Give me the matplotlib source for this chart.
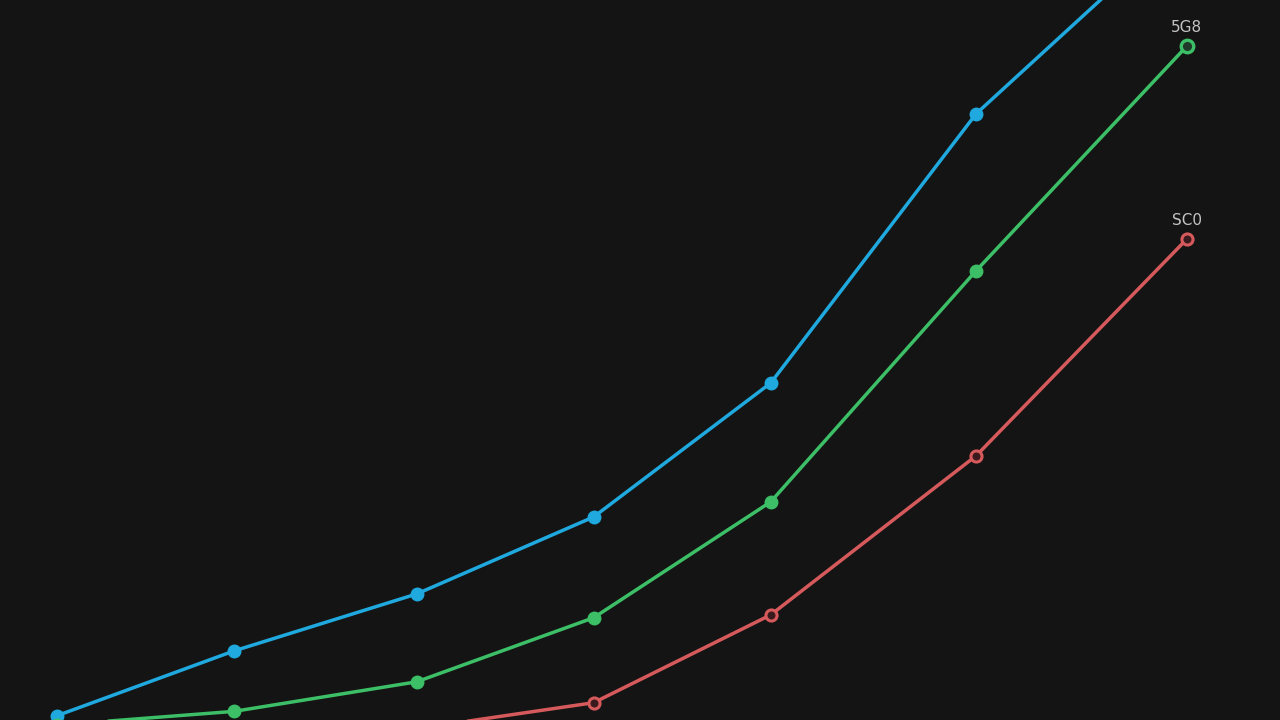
import matplotlib.pyplot as plt

steps = [0, 1.0, 2.03, 3.03, 4.03, 5.19, 6.38]
blue_vals = [6, 96, 175, 282, 468, 842, 1110]
green_vals = [-7, 12, 53, 142, 303, 624, 936]
red_vals = [-60, -35, -12, 24, 146, 367, 668]
end_labels = {'green': '5G8', 'red': 'SC0'}

BG = '#141414'
BLUE = '#1fa9de'
GREEN = '#3cbf66'
RED = '#d65a5c'


def plot_lines():
    fig = plt.figure(figsize=(12.8, 7.2), dpi=100, facecolor=BG)
    ax = fig.add_axes([0, 0, 1, 1])
    ax.set_facecolor(BG)

    ax.plot(steps, blue_vals, color=BLUE, lw=2.5, marker='o', ms=9,
            mfc=BLUE, mec=BLUE, zorder=3)
    ax.plot(steps[:-1], green_vals[:-1], color=GREEN, lw=2.5, marker='o',
            ms=9, mfc=GREEN, mec=GREEN, zorder=3)
    ax.plot(steps[-2:], green_vals[-2:], color=GREEN, lw=2.5, zorder=3)
    ax.plot(steps[-1], green_vals[-1], marker='o', ms=9, mfc='#1f3a28',
            mec=GREEN, mew=2.4, zorder=4)
    ax.plot(steps, red_vals, color=RED, lw=2.5, marker='o', ms=8,
            mfc='#3a1a1c', mec=RED, mew=2.2, zorder=3)

    ax.annotate(end_labels['green'], (steps[-1], green_vals[-1]),
                textcoords='offset points', xytext=(0, 10), ha='center',
                color='#c4c4c4', fontsize=11)
    ax.annotate(end_labels['red'], (steps[-1], red_vals[-1]),
                textcoords='offset points', xytext=(0, 10), ha='center',
                color='#c4c4c4', fontsize=11)

    ax.set_xlim(-0.322, 6.906)
    ax.set_ylim(0, 1000)
    ax.axis('off')
    fig.savefig('out.png', dpi=100, facecolor=BG)


def main():
    plot_lines()


if __name__ == "__main__":
    main()
